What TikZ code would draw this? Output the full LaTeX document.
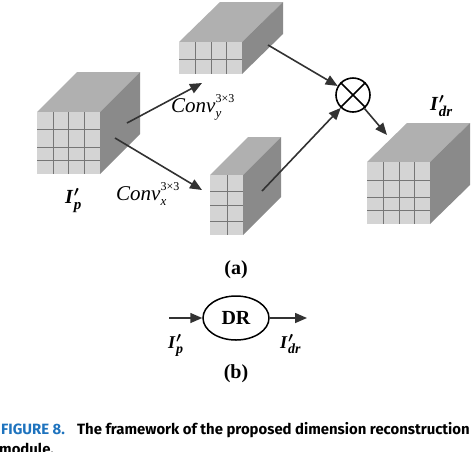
\documentclass[tikz,border=0pt]{standalone}
\usepackage{fontspec}
\setmainfont{Liberation Serif}
\newfontfamily\capfont{Fira Sans}
\usetikzlibrary{arrows.meta,shapes.geometric}
\definecolor{topc}{RGB}{176,176,176}
\definecolor{sidec}{RGB}{138,138,138}
\definecolor{frontc}{RGB}{212,212,212}
\definecolor{gridc}{RGB}{118,118,118}
\definecolor{arrc}{RGB}{50,50,50}
\definecolor{figblue}{RGB}{30,115,190}
\newcommand\Ilab[3]{{\fontsize{#2}{#2}\selectfont\bfseries\itshape I\kern1pt\makebox[0pt][l]{\raisebox{0.32em}{\fontsize{#3}{#3}\selectfont$\boldsymbol{\prime}$}}\raisebox{-0.3em}{\fontsize{#3}{#3}\selectfont #1}}}
\newcommand\convlab[1]{{\fontsize{21}{21}\selectfont\itshape Conv}\makebox[0pt][l]{\raisebox{10pt}{\fontsize{12}{12}\selectfont 3×3}}\raisebox{-5pt}{\fontsize{13}{13}\selectfont\itshape #1}}
% x0 y0 x1 y1 dx dy cols rows
\newcommand\drawcube[8]{%
  \fill[topc] (#1,#2) -- ({#1+#5},{#2+#6}) -- ({#3+#5},{#2+#6}) -- (#3,#2) -- cycle;
  \fill[sidec] (#3,#2) -- ({#3+#5},{#2+#6}) -- ({#3+#5},{#4+#6}) -- (#3,#4) -- cycle;
  \fill[frontc] (#1,#2) rectangle (#3,#4);
  \foreach \c in {#7} {\draw[gridline] (\c,#2) -- (\c,#4);}
  \foreach \r in {#8} {\draw[gridline] (#1,\r) -- (#3,\r);}
}
\usepackage{amsmath,bm}
\tikzset{
  x=1pt, y=-1pt,
  gridline/.style={draw=gridc, line width=0.9pt},
  flow/.style={draw=arrc, line width=1.6pt, -{Triangle[length=12pt,width=10pt]}},
  lbl/.style={inner sep=0pt, anchor=base west},
  paren/.style={inner sep=0pt, font=\fontsize{20}{20}\selectfont\bfseries},
  captext/.style={inner sep=0pt, anchor=base west, font=\capfont\bfseries\fontsize{14.9}{14.9}\selectfont},
}
\begin{document}
\begin{tikzpicture}
\useasboundingbox (0,0) rectangle (474,451);
\clip (0,0) rectangle (474,451);
% cubes
\drawcube{37}{112}{100}{174}{40}{-40}{53,68,84}{129,147,160}
\drawcube{179}{42}{242}{74}{41}{-40}{195,211,226}{59}
\drawcube{210}{175}{243}{235}{38}{-38}{227}{191,205,221}
\drawcube{367}{162}{430}{224}{40}{-39}{383,399,414}{180,197,210}
% arrow end points
\coordinate (a1s) at (127,123);
\coordinate (a1e) at (202,83);
\coordinate (a2s) at (115,138);
\coordinate (a2e) at (202,190);
\coordinate (a3s) at (268,45);
\coordinate (a4s) at (262,191);
\coordinate (a5e) at (387,135);
\node[circle, draw=black, line width=1.6pt, minimum size=34pt, inner sep=0pt] (ot) at (353,95) {};
\draw[line width=1.6pt] (ot.north west) -- (ot.south east);
\draw[line width=1.6pt] (ot.north east) -- (ot.south west);
\draw[flow] (a1s) -- (a1e);
\draw[flow] (a2s) -- (a2e);
\draw[flow] (a3s) -- (ot);
\draw[flow] (a4s) -- (ot);
\draw[flow] (ot) -- (a5e);
% labels
\node[lbl] (cy) at (171,112) {\convlab{y}};
\node[lbl] (cx) at (116,200) {\convlab{x}};
\node[lbl] (ip) at (65,203) {\Ilab{p}{20}{15}};
\node[lbl] (idr) at (430,110) {\Ilab{dr}{20}{15}};
\node[paren] (pa) at (236,270) {(a)};
% panel b
\node[ellipse, draw=black, line width=1.5pt, minimum width=66pt, minimum height=44pt, inner sep=0pt, font=\fontsize{20}{20}\selectfont\bfseries] (dr) at (236,318) {DR};
\coordinate (bin) at (169,318);
\coordinate (bout) at (307,318);
\draw[flow] (bin) -- (dr.west);
\draw[flow] (dr.east) -- (bout);
\node[lbl] (ip2) at (168,348) {\Ilab{p}{18}{14}};
\node[lbl] (idr2) at (280,348) {\Ilab{dr}{18}{14}};
\node[paren] (pb) at (236,374) {(b)};
% caption
\node[captext, text=figblue] (cap1) at (1,434) {FIGURE 8.};
\node[captext] (cap2) at (77,434) {The framework of the proposed dimension reconstruction};
\node[captext] (cap3) at (-1,454) {module.};
\end{tikzpicture}
\end{document}
